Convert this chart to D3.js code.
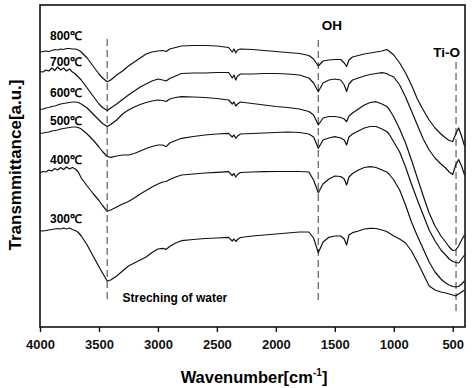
<!DOCTYPE html>
<html>
<head>
<meta charset="utf-8">
<script src="https://cdn.jsdelivr.net/npm/d3@7"></script>
<style>
  body { margin: 0; background: #fff; }
  text { font-family: "Liberation Sans", Arial, sans-serif; font-weight: bold; }
</style>
</head>
<body>
<div id="svgcontainer"></div>
<script>
// wavenumber grid [cm-1], shared by all spectra
const wavenumbers = [4000, 3975, 3950, 3925, 3900, 3875, 3850, 3825, 3800, 3775, 3750, 3725, 3700, 3675, 3650,
  3600, 3550, 3500, 3470, 3430, 3400, 3350, 3300, 3250, 3200, 3150, 3100, 3050, 3000, 2960, 2930, 2900, 2850, 2800,
  2700, 2600, 2500, 2400, 2370, 2355, 2340, 2325, 2300, 2200, 2100, 2000, 1900, 1800, 1720, 1680, 1640, 1600, 1550,
  1500, 1450, 1420, 1400, 1380, 1350, 1300, 1250, 1200, 1150, 1100, 1060, 1040, 1000, 950, 900, 850, 800, 750, 700,
  650, 600, 560, 530, 500, 475, 450, 425, 400];

// transmittance, arbitrary units (curves are stacked)
const t800 = [275, 275.5, 276, 275.5, 276.5, 277.5, 277, 278, 277.5, 278.5, 278.5, 278, 278, 277, 275,
  269, 261, 253, 249, 245.3, 247, 252, 256, 261, 265, 269, 273, 275, 276, 276.5, 275.5, 278, 279.5, 281,
  281.5, 281.5, 281, 279.5, 275, 278, 274, 277, 278, 277.5, 276.5, 275.5, 274.5, 273.5, 271.5, 268, 261, 266, 267,
  267.5, 267.5, 264, 260.5, 267, 270, 271.5, 273, 274, 275, 276, 277.5, 276, 272, 264, 254, 242, 228, 217, 207,
  199, 193, 189, 186.5, 185.5, 193, 199, 191, 181];
const t700 = [255.3, 255, 257, 256, 259, 256.5, 260, 257, 259, 256, 258, 255, 253, 250, 247,
  239, 231, 223, 219.5, 216.5, 219, 223, 227.5, 232, 236, 240, 243, 246, 248, 247, 246, 248.5, 251, 253.5,
  254, 254, 254.5, 254.5, 249, 252, 247, 251, 253, 253, 253.5, 253.5, 253, 252, 249, 244, 235.3, 244, 247,
  248, 247, 242, 235.5, 243, 247, 249, 251, 252.5, 253.5, 254.3, 253.5, 252, 250, 242, 230, 216, 202, 188, 177,
  169, 163, 159, 155, 152.5, 162, 167.5, 161, 152];
const t600 = [217.7, 218, 219, 219.5, 220.5, 221, 222, 223, 223.5, 224, 224.5, 225, 225, 224.5, 223,
  219, 213, 207, 203.5, 200.5, 202.5, 207, 213, 217, 220, 222.5, 224.5, 226, 227, 226.5, 225.5, 228, 229.5, 230.3,
  230, 229.5, 228.5, 227, 223, 225, 221, 223, 225, 223.5, 222, 220.5, 219.5, 218, 215.5, 212, 202, 209, 210.5,
  210.5, 209.5, 208, 205.3, 211, 214, 218, 222, 224.5, 225.3, 223, 220.5, 218, 210, 198, 184, 167, 149, 131, 114,
  101, 91, 85, 80, 76.5, 77, 81, 87, 92];
const t500 = [193.7, 194, 194.5, 195, 196, 196.5, 197, 198, 198.5, 199, 199.5, 200, 200, 199.5, 198,
  193, 187, 180, 175.5, 170.5, 169.7, 171, 172, 172, 173.5, 176, 178.5, 180.5, 182, 182, 180.3, 184, 186.5, 188.7,
  190.5, 192, 193, 193.7, 190, 192, 188.7, 191, 193, 193.5, 194, 194.5, 195, 194.5, 193, 190, 178.7, 187, 189,
  190.3, 189, 187, 182, 190, 193, 196, 199, 200.5, 200.5, 198, 195.5, 193, 185, 175, 160, 143, 127, 112, 97,
  86, 77, 72, 68, 65.5, 64.5, 64, 68, 72];
const t400 = [154.3, 155.5, 155, 157, 156, 158.5, 157, 159.5, 157.5, 160, 158, 159.5, 158, 155, 149,
  141, 133.5, 126.5, 121.5, 115.7, 117, 120, 123, 125.5, 129, 133, 136.5, 140, 143, 145, 145.5, 147.5, 150, 152,
  153, 154, 154.7, 155.3, 151.5, 153.5, 150, 152.5, 154.5, 155, 155.3, 155.5, 155.5, 155.5, 155, 147, 134.3, 143, 148,
  151, 150.5, 148, 142, 150, 153.5, 157, 159.5, 160.3, 159.5, 157, 155, 153, 147, 137, 122, 105, 91, 78, 65,
  55, 48, 44, 42, 40.5, 40, 40.5, 43, 46];
const t300 = [96.3, 96, 96.5, 97, 97.5, 98, 98.5, 98, 99, 98, 99, 97.5, 96.5, 94.5, 91,
  82, 71, 60.3, 54, 46, 47, 51, 56, 61, 64, 67, 70, 74.5, 78, 78.7, 77.7, 80.5, 84, 86.3,
  87.5, 88.5, 89, 89.7, 86, 88, 85.5, 87.5, 89.5, 91, 92, 93, 94, 95, 95, 89, 74.3, 85, 89.7,
  91, 91, 88, 82, 92, 94.3, 96, 98, 98.7, 98.5, 97, 95.5, 94, 91, 88, 84, 76, 65, 53, 41,
  37, 35, 34, 33, 32, 31, 33, 35, 37];

const series = [t800, t700, t600, t500, t400, t300];
const seriesLabels = ["800\u2103", "700\u2103", "600\u2103", "500\u2103", "400\u2103", "300\u2103"];
const labelLevels = [287.5, 261, 230, 202, 163.5, 104];   // a.u. baseline of each label

const xTicks = [4000, 3500, 3000, 2500, 2000, 1500, 1000, 500];

// assignment markers: [wavenumber, top a.u., bottom a.u.]
const markers = [[3430, 288, 25], [1640, 287, 24], [472, 265, 12]];
const markerLabels = [["OH", 1610, 297], ["Ti-O", 665, 270], ["Streching of water", 3300, 25.5]];

const W = 474, H = 388;
const margin = {top: 5, right: 9, bottom: 61, left: 40};

const svg = d3.select("#svgcontainer")
    .append("svg")
    .attr("width", W)
    .attr("height", H)

const x = d3.scaleLinear().domain([4000, 396]).range([margin.left, W - margin.right]);
const y = d3.scaleLinear().domain([0, 322]).range([H - margin.bottom, margin.top]);

const main_g = svg.append("g");

// dashed guide lines
main_g.selectAll(".marker")
    .data(markers)
    .join("line")
    .attr("x1", d => x(d[0])).attr("x2", d => x(d[0]))
    .attr("y1", d => y(d[1])).attr("y2", d => y(d[2]))
    .attr("stroke", "#6a6a6a")
    .attr("stroke-width", 1.3)
    .attr("stroke-dasharray", "7,4");

// spectra
const line = d3.line()
    .x((d, i) => x(wavenumbers[i]))
    .y(d => y(d));

main_g.selectAll(".spec")
    .data(series)
    .join("path")
    .attr("d", line)
    .attr("fill", "none")
    .attr("stroke", "#111")
    .attr("stroke-width", 1.2)
    .attr("stroke-linejoin", "round");

// temperature labels
main_g.selectAll(".tlab")
    .data(seriesLabels)
    .join("text")
    .attr("x", x(3915))
    .attr("y", (d, i) => y(labelLevels[i]))
    .attr("font-size", 12)
    .text(d => d);

main_g.selectAll(".mlab")
    .data(markerLabels)
    .join("text")
    .attr("x", d => x(d[1]))
    .attr("y", d => y(d[2]))
    .attr("font-size", (d, i) => i == 2 ? 12 : 13.5)
    .text(d => d[0]);

// frame
svg.append("rect")
    .attr("x", margin.left).attr("y", margin.top)
    .attr("width", W - margin.left - margin.right)
    .attr("height", H - margin.top - margin.bottom)
    .attr("fill", "none")
    .attr("stroke", "#111")
    .attr("stroke-width", 1.6);

// x axis
const xAxis = d3.axisBottom(x).tickValues(xTicks).tickFormat(d3.format("d")).tickSize(5).tickPadding(8);
const ax = svg.append("g")
    .attr("transform", `translate(0, ${H - margin.bottom})`)
    .call(xAxis);
ax.select(".domain").remove();
ax.selectAll("line").attr("stroke", "#111").attr("stroke-width", 1.4);
ax.selectAll("text")
    .attr("font-size", 13)
    .attr("font-family", "Liberation Sans, Arial, sans-serif")
    .attr("font-weight", "bold")
    .attr("fill", "#111");

// axis titles
const xt = svg.append("text")
    .attr("x", 254)
    .attr("y", 383)
    .attr("text-anchor", "middle")
    .attr("font-size", 16.5);
xt.append("tspan").text("Wavenumber[cm");
xt.append("tspan").attr("font-size", 10).attr("dy", -7).text("-1");
xt.append("tspan").attr("dy", 7).text("]");

svg.append("text")
    .attr("transform", `translate(21, 165) rotate(-90)`)
    .attr("text-anchor", "middle")
    .attr("font-size", 17)
    .text("Transmmittance[a.u.]");
</script>
</body>
</html>
